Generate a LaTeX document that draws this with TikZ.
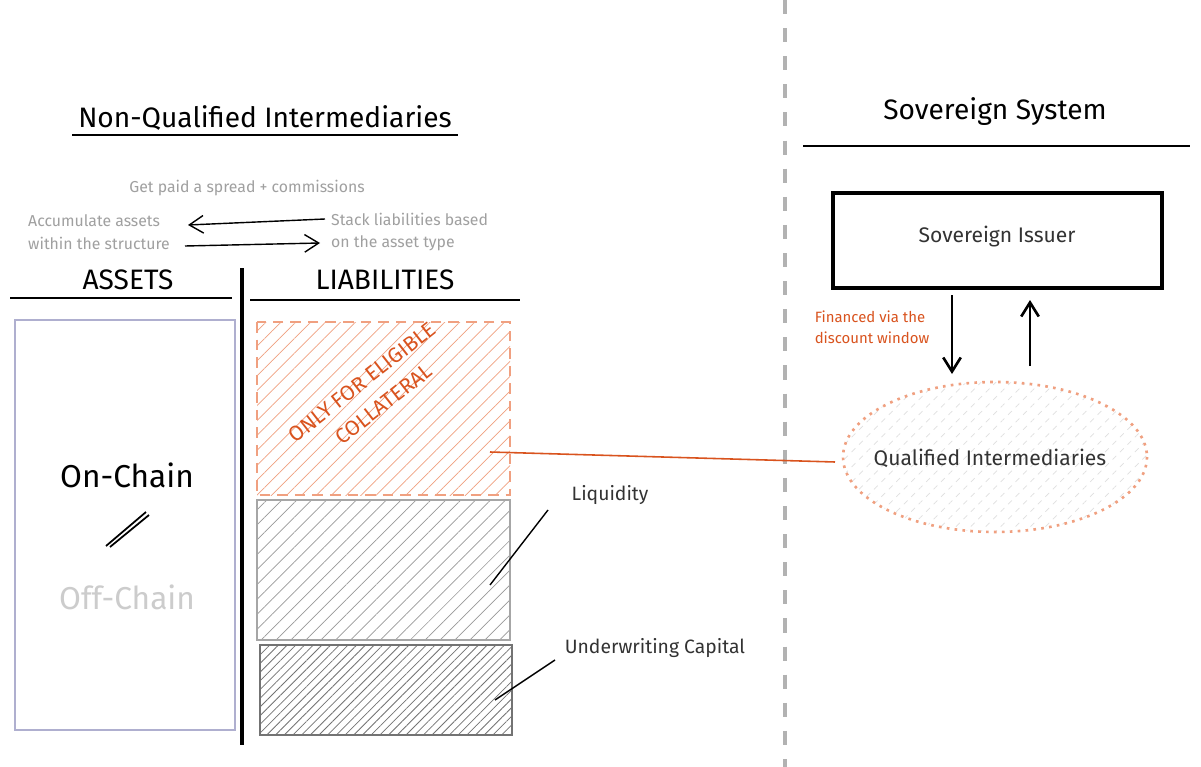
\documentclass[tikz,border=0pt]{standalone}
\usepackage{fontspec}
\setmainfont{Fira Sans}
\usetikzlibrary{patterns.meta,arrows.meta}
\definecolor{org}{HTML}{D9531E}
\definecolor{lorg}{HTML}{F0A080}
\definecolor{gtxt}{HTML}{A0A0A0}
\begin{document}
\begin{tikzpicture}[x=0.02cm,y=-0.02cm,
  lbl/.style={font=\fontsize{9}{11}\selectfont,text=gtxt,align=left,anchor=west},
  hd/.style={font=\fontsize{16}{18}\selectfont},
  rot/.style={text=org,font=\fontsize{12}{15}\selectfont,rotate=38,inner sep=0pt},
  arr/.style={-{Straight Barb[length=8pt,width=10pt]},line width=0.9pt}]
\useasboundingbox[fill=white] (0,0) rectangle (1201,767);
\draw[gray!60,line width=2.5pt,dash pattern=on 8pt off 8pt] (785,0) -- (785,767);
% titles
\node[hd] (nqi) at (265,118) {Non-Qualified Intermediaries};
\draw[line width=1.3pt] (72,135) -- (458,135);
\node[hd] (ss) at (995,112) {Sovereign System};
\draw[line width=1.3pt] (803,146) -- (1190,146);
\node[lbl,anchor=center] (gp) at (247,188) {Get paid a spread + commissions};
\node[lbl,align=left] (acc) at (22,232) {Accumulate assets\\[2pt]within the structure};
\node[lbl,align=left] (stk) at (325,232) {Stack liabilities based\\[2pt]on the asset type};
\coordinate (a1) at (325,219); \coordinate (a2) at (188,225);
\coordinate (b1) at (185,246); \coordinate (b2) at (320,243);
\draw[arr,line width=0.8pt] (a1) -- (a2);
\draw[arr,line width=0.8pt] (b1) -- (b2);
\node[hd] (as) at (128,280) {ASSETS};
\node[hd] (li) at (385,280) {LIABILITIES};
\draw[line width=1.3pt] (10,298) -- (232,298);
\draw[line width=1.3pt] (250,300) -- (520,300);
\draw[line width=1.8pt] (242,268) -- (242,745);
% assets box
\draw[color=blue!25!gray!50,line width=0.8pt] (15,320) rectangle (235,730);
\node[font=\fontsize{18}{20}\selectfont] (on) at (127,475) {On-Chain};
\draw[line width=1pt] (106,546) -- (146,512) (110,547) -- (149,515);
\node[font=\fontsize{18}{20}\selectfont,text=gray!40] (off) at (127,597) {Off-Chain};
% liabilities
\draw[lorg,line width=1pt,dash pattern=on 6pt off 4pt,pattern={Lines[angle=45,distance=6pt,line width=0.4pt]},pattern color=lorg] (257,322) rectangle (510,495);
\node[rot] (elig1) at (362,382) {ONLY FOR ELIGIBLE};
\node[rot] (elig2) at (384,404) {COLLATERAL};
\draw[gray!70,line width=1.2pt,pattern={Lines[angle=45,distance=6pt,line width=0.4pt]},pattern color=gray!80] (257,500) rectangle (510,640);
\draw[gray!90!black,line width=1.2pt,pattern={Lines[angle=45,distance=3.5pt,line width=0.45pt]},pattern color=gray!90!black] (260,645) rectangle (512,735);
\node[font=\fontsize{11}{13}\selectfont,text=black!80] (liq) at (610,495) {Liquidity};
\coordinate (l1) at (548,510); \coordinate (l2) at (490,585);
\draw[line width=0.8pt] (l1) -- (l2);
\node[font=\fontsize{11}{13}\selectfont,text=black!80] (uc) at (655,648) {Underwriting Capital};
\coordinate (u1) at (555,660); \coordinate (u2) at (495,700);
\draw[line width=0.8pt] (u1) -- (u2);
% sovereign
\draw[line width=2pt] (833,193) rectangle (1162,288);
\node[font=\fontsize{12}{14}\selectfont,text=black!80] (si) at (997,237) {Sovereign Issuer};
\coordinate (d1) at (952,295); \coordinate (d2) at (952,374);
\coordinate (e1) at (1030,366); \coordinate (e2) at (1030,300);
\draw[arr,line width=1.5pt] (d1) -- (d2);
\draw[arr,line width=1.5pt] (e1) -- (e2);
\node[text=org,font=\fontsize{8.5}{12}\selectfont,align=left] (fin) at (872,327) {Financed via the\\discount window};
\draw[lorg,line width=1.5pt,dash pattern=on 1.5pt off 3pt,pattern={Lines[angle=45,distance=6pt,line width=0.4pt]},pattern color=gray!25] (995,457) ellipse [x radius=152,y radius=75];
\node[font=\fontsize{12}{14}\selectfont,text=black!80] (qi) at (990,458) {Qualified Intermediaries};
\coordinate (o1) at (490,452); \coordinate (o2) at (835,462);
\draw[org,line width=0.9pt] (o1) -- (o2);
\end{tikzpicture}
\end{document}
